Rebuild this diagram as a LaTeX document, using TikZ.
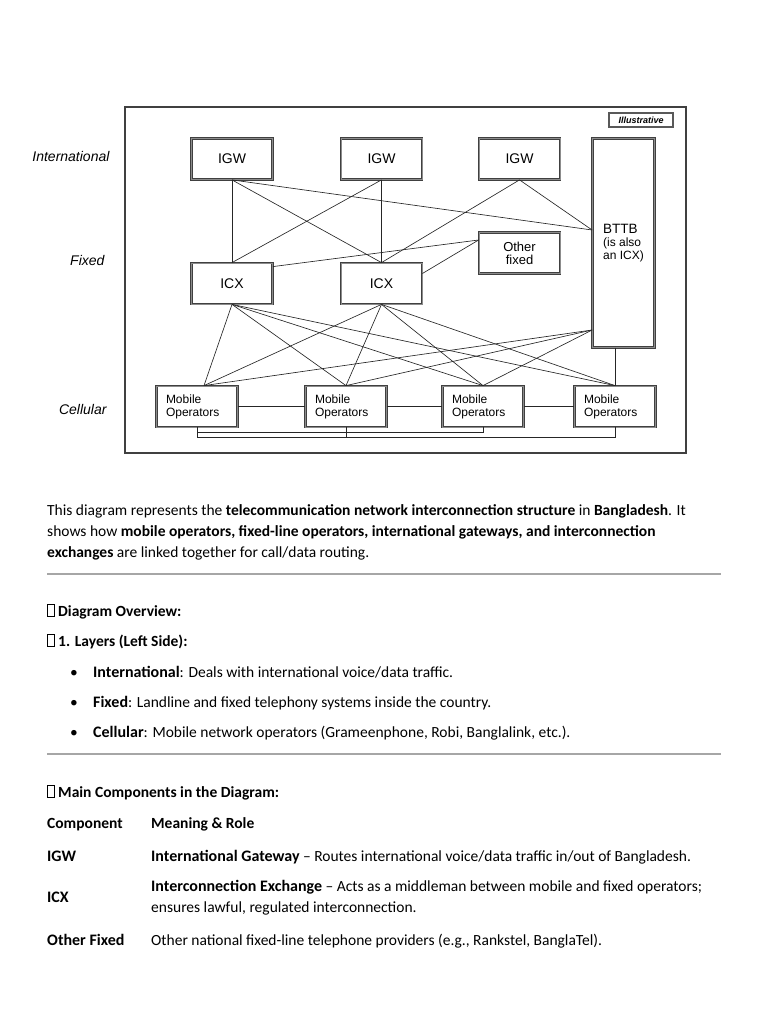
\documentclass[tikz,border=0pt]{standalone}
\usepackage{fontspec}
\setmainfont{Carlito}
\newfontfamily\arial{Liberation Sans}
\usetikzlibrary{calc}

% box glyph that the page prints for a missing emoji
\newcommand\tofu{{\setlength\fboxsep{0pt}\setlength\fboxrule{0.5pt}\fbox{\rule{0pt}{1.5ex}\hspace{0.42em}}}}
\newcommand\bterm[1]{{\bfseries\fontsize{16}{18}\selectfont #1}}

\tikzset{
  netbox/.style={draw=black!75, double=black!45, line width=0.8pt, double distance=0.9pt,
    minimum width=81pt, minimum height=41pt, font=\arial\fontsize{14}{15}\selectfont},
  mobile/.style={netbox, align=left, text width=62pt, font=\arial\fontsize{12}{13}\selectfont},
  layer/.style={anchor=east, font=\arial\itshape\fontsize{14}{15}\selectfont},
  tag/.style={draw=black!65, line width=1.3pt,
    minimum width=64pt, minimum height=14pt, inner sep=1pt, font=\arial\bfseries\itshape\fontsize{9}{10}\selectfont},
  link/.style={draw=black!85, line width=0.65pt},
  frame/.style={draw=black!75, line width=1.6pt},
  txt/.style={anchor=base west, inner sep=0pt, font=\fontsize{15.5}{18}\selectfont},
  rule/.style={draw=black!35, line width=2pt}
}

\begin{document}
\begin{tikzpicture}[x=1pt,y=-1pt]
\useasboundingbox (0,0) rectangle (768,1024);

% the diagram
\draw[frame] (125,107) rectangle (686,453);
\node[tag] (illus) at (641,120) {Illustrative};

\node[layer] (intl) at (113,156) {International};
\node[layer] (fixed) at (108,260) {Fixed};
\node[layer] (cell) at (110,409) {Cellular};

\node[netbox] (igw1) at (232,159) {IGW};
\node[netbox] (igw2) at (381.5,159) {IGW};
\node[netbox] (igw3) at (519.5,159) {IGW};
\node[netbox, minimum width=62pt, minimum height=209pt, align=left,
  font=\arial\fontsize{12}{13}\selectfont] (bttb) at (623.5,243)
  {{\fontsize{13.5}{13}\selectfont BTTB}\\(is also\\an ICX)};
\node[netbox, align=center, font=\arial\fontsize{13}{13}\selectfont] (ofix) at (519.5,253) {Other\\fixed};
\node[netbox] (icx1) at (232,283.5) {ICX};
\node[netbox] (icx2) at (381.5,283.5) {ICX};

\node[mobile] (mob1) at (197,406.5) {Mobile\\Operators};
\node[mobile] (mob2) at (346,406.5) {Mobile\\Operators};
\node[mobile] (mob3) at (483,406.5) {Mobile\\Operators};
\node[mobile] (mob4) at (615,406.5) {Mobile\\Operators};

\coordinate (bttbhi) at ($(bttb.west)+(0,-13)$);
\coordinate (bttblo) at ($(bttb.west)+(0,87)$);
\coordinate (ofixin) at ($(ofix.west)+(0,-13)$);
\coordinate (icx1out) at ($(icx1.north east)+(0,4)$);
\coordinate (icx2out) at ($(icx2.east)+(0,-10)$);
\coordinate (top1) at ($(mob1.north)+(7,0)$);
\coordinate (top2) at (mob2.north);
\coordinate (top3) at (mob3.north);
\coordinate (top4) at (mob4.north);

\draw[link] (igw1.south) -- (icx1.north);
\draw[link] (igw1.south) -- (icx2.north);
\draw[link] (igw1.south) -- (bttbhi);
\draw[link] (igw2.south) -- (icx2.north);
\draw[link] (igw2.south) -- (icx1.north);
\draw[link] (igw3.south) -- (icx2.north);
\draw[link] (igw3.south) -- (bttbhi);
\draw[link] (icx1out) -- (ofixin);
\draw[link] (icx2out) -- (ofixin);
\foreach \m in {1,...,4} {
  \draw[link] (icx1.south) -- (top\m);
  \draw[link] (icx2.south) -- (top\m);
}
\foreach \m in {1,2,3}
  \draw[link] (bttblo) -- (top\m);
\draw[link] (bttb.south -| mob4.north) -- (mob4.north);
\draw[link] (mob1.east) -- (mob2.west);
\draw[link] (mob2.east) -- (mob3.west);
\draw[link] (mob3.east) -- (mob4.west);
\draw[link] (mob1.south) -- ++(0,10) -| (mob4.south);
\draw[link] (mob1.south) ++(0,5) -| (mob3.south);
\draw[link] (mob2.south) -- ++(0,10);

% the text below it
\node[txt] (p1) at (47,515) {This diagram represents the \textbf{telecommunication network interconnection structure} in \textbf{Bangladesh}. It};
\node[txt] (p2) at (47,536) {shows how \textbf{mobile operators, fixed-line operators, international gateways, and interconnection}};
\node[txt] (p3) at (47,557) {\textbf{exchanges} are linked together for call/data routing.};
\draw[rule] (47,574) -- (721,574);

\node[txt] (ovw) at (47,616) {\tofu\ \textbf{Diagram Overview:}};
\node[txt] (lay) at (47,646) {\tofu\ \textbf{1. Layers (Left Side):}};
\foreach \y/\term/\desc in {677/International/Deals with international voice\slash data traffic.,
    707/Fixed/Landline and fixed telephony systems inside the country.,
    737/Cellular/{Mobile network operators (Grameenphone, Robi, Banglalink, etc.).}} {
  \node[txt] at (70,\y) {•};
  \node[txt] at (93,\y) {\bterm{\term}: \desc};
}
\draw[rule] (47,754) -- (721,754);

\node[txt] (comp) at (47,797) {\tofu\ \textbf{Main Components in the Diagram:}};
\node[txt] (hd1) at (47,828) {\textbf{Component}};
\node[txt] (hd2) at (151,828) {\textbf{Meaning \& Role}};
\node[txt] (igwk) at (47,861) {\bterm{IGW}};
\node[txt] (igwv) at (151,861) {\bterm{International Gateway} – Routes international voice/data traffic in/out of Bangladesh.};
\node[txt] (icxk) at (47,902) {\bterm{ICX}};
\node[txt] (icxv) at (151,891) {\bterm{Interconnection Exchange} – Acts as a middleman between mobile and fixed operators;};
\node[txt] (icxw) at (151,912) {ensures lawful, regulated interconnection.};
\node[txt] (ofk) at (47,945) {\bterm{Other Fixed}};
\node[txt] (ofv) at (151,945) {Other national fixed-line telephone providers (e.g., Rankstel, BanglaTel).};
\end{tikzpicture}
\end{document}
